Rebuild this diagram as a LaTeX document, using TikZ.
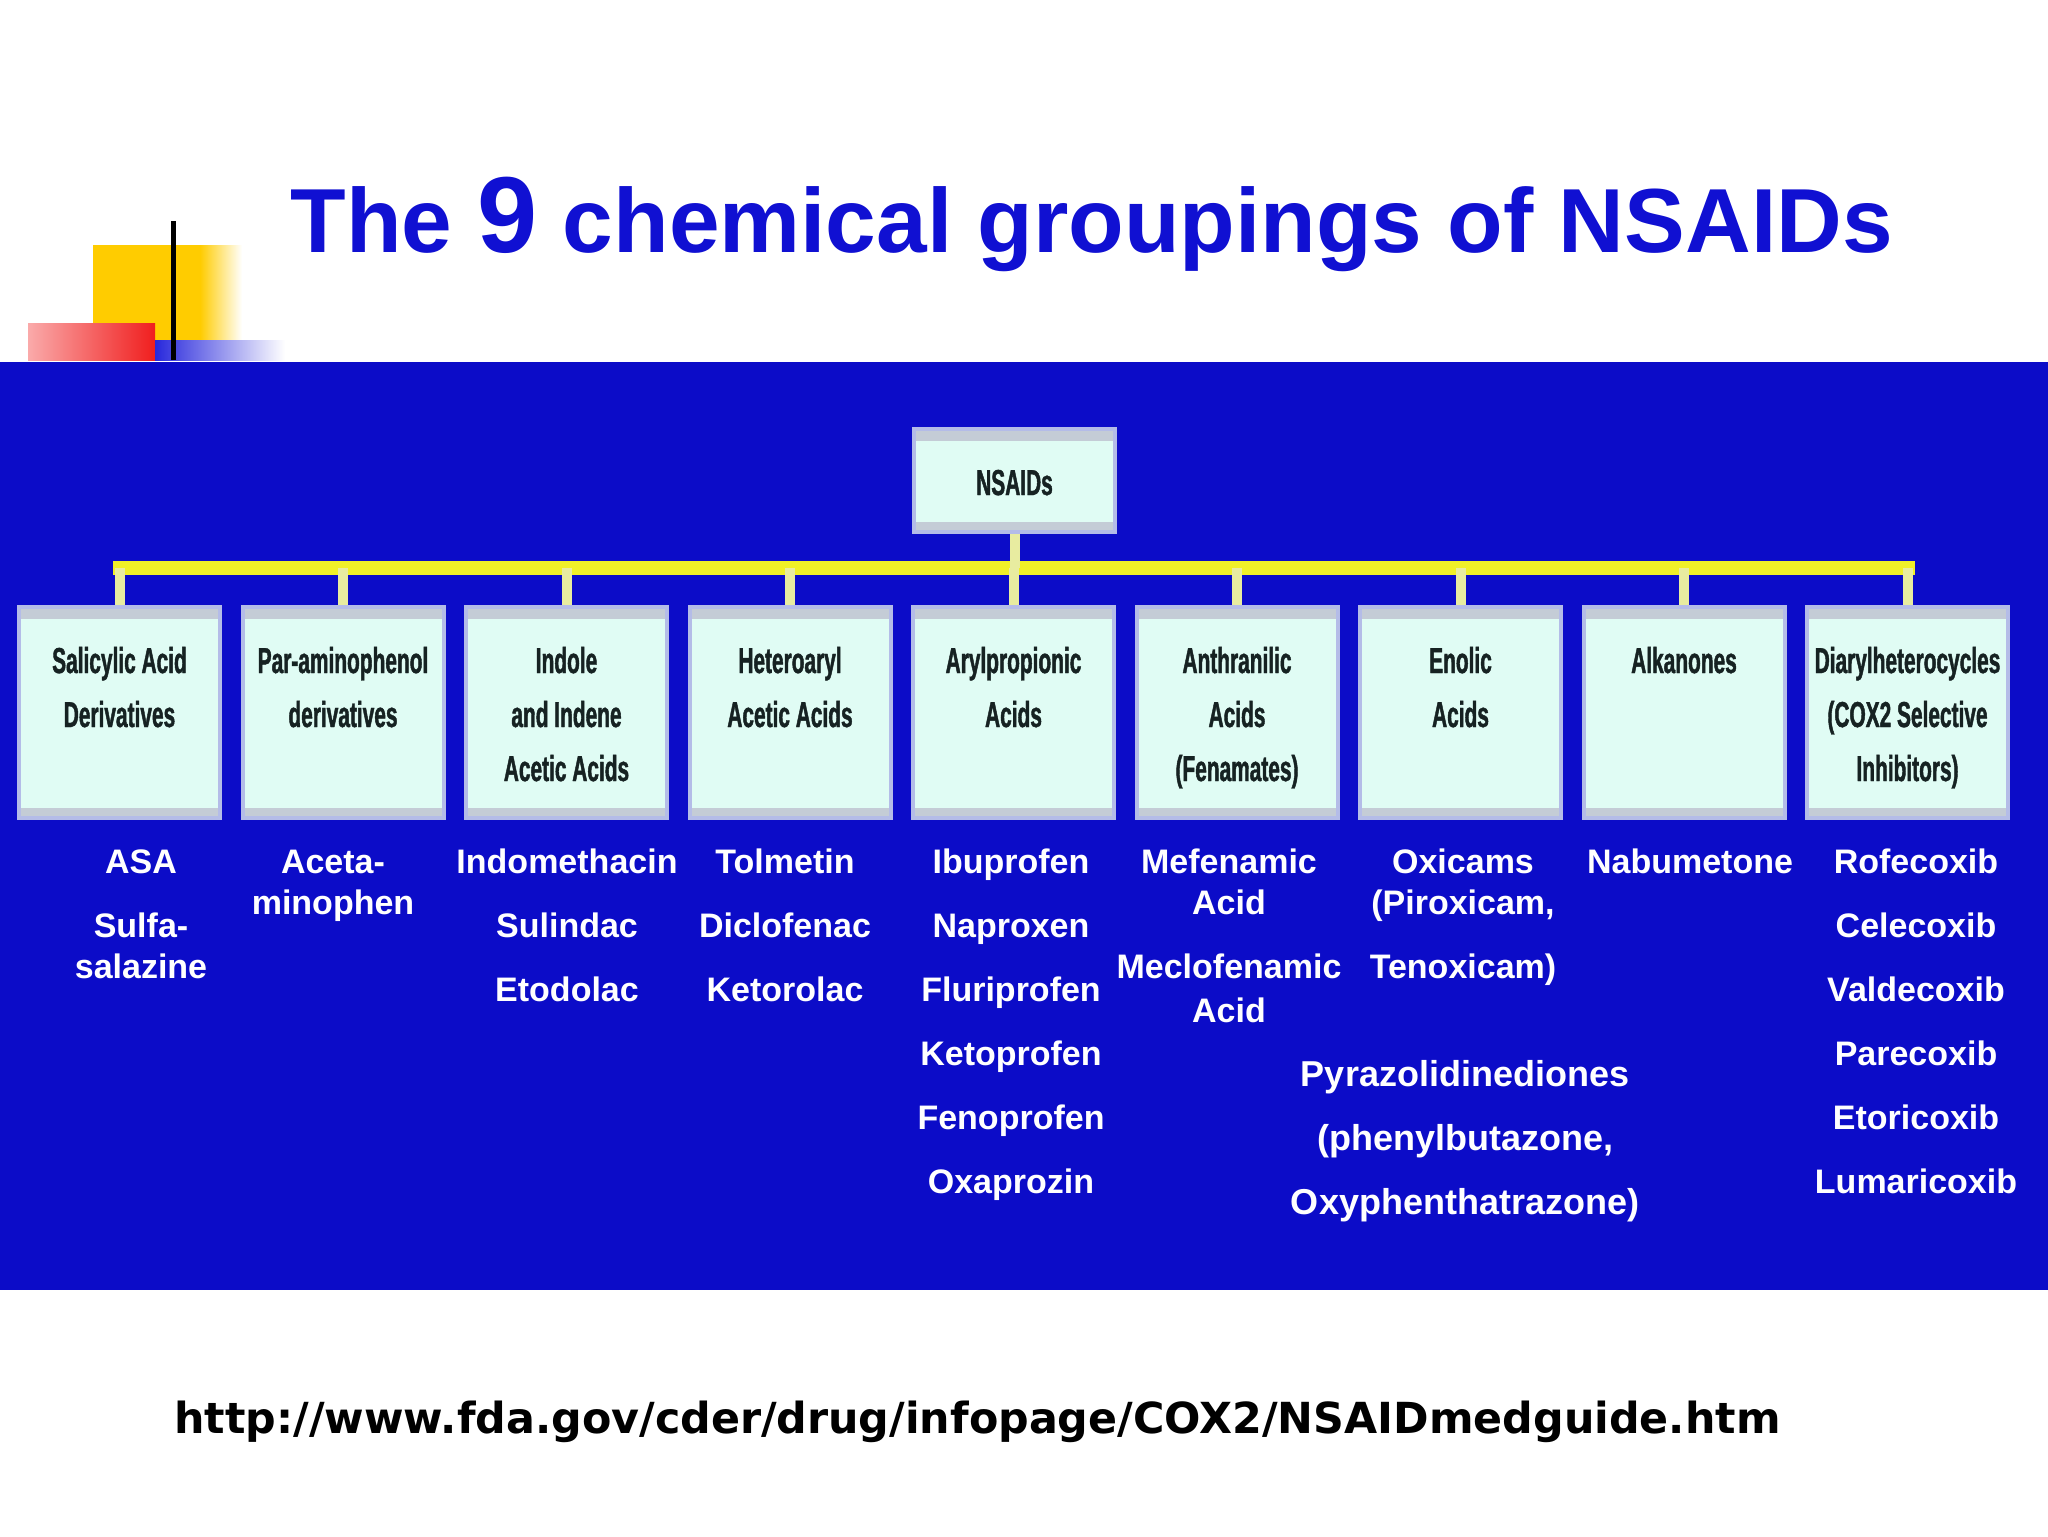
\documentclass[tikz,border=0pt]{standalone}
\usepackage{fontspec}
\setmainfont{Liberation Sans}
\newfontfamily\narrowfont{Liberation Sans Bold}[FakeStretch=0.58,FakeBold=1.2]
\newfontfamily\urlfont{DejaVu Sans}
\definecolor{band}{RGB}{12,12,200}
\definecolor{titleblue}{RGB}{16,16,210}
\definecolor{mint}{RGB}{224,252,244}
\definecolor{edgelav}{RGB}{180,188,232}
\definecolor{edgegray}{RGB}{196,204,214}
\definecolor{ybar}{RGB}{240,240,40}
\definecolor{ystub}{RGB}{232,236,160}
\definecolor{logoyellow}{RGB}{255,204,0}
\definecolor{logored}{RGB}{240,30,30}
\definecolor{logopink}{RGB}{250,170,170}
\definecolor{logoblue}{RGB}{40,40,220}
\definecolor{boxtext}{RGB}{22,34,34}
\tikzset{
  catbox/.style={draw=edgelav, line width=2pt, fill=mint, inner sep=0pt,
    minimum width=100.5pt, minimum height=105.5pt,
    path picture={
      \fill[edgegray] (path picture bounding box.north west) rectangle ([yshift=-6pt]path picture bounding box.north east);
      \fill[edgegray] (path picture bounding box.south west) rectangle ([yshift=5pt]path picture bounding box.south east);
    }},
  boxtxt/.style={anchor=base, inner sep=0pt, text=boxtext,
    font=\narrowfont\fontsize{18pt}{22pt}\selectfont},
  drug/.style={anchor=base, inner sep=0pt, text=white,
    font=\bfseries\fontsize{17pt}{20pt}\selectfont},
  pyra/.style={anchor=base, inner sep=0pt, text=white,
    font=\bfseries\fontsize{18pt}{20pt}\selectfont},
  ybarline/.style={draw=ybar, line width=7pt, line cap=rect},
  ystubline/.style={draw=ystub, line width=5pt},
}
\begin{document}
\begin{tikzpicture}[x=0.5pt, y=-0.5pt]
\useasboundingbox (0,0) rectangle (2048,1536);
\fill[white] (0,0) rectangle (2048,1536);
% logo
\fill[logoyellow] (93,245) rectangle (200,340);
\shade[left color=logoyellow, right color=white] (200,245) rectangle (242,340);
\shade[left color=logopink, right color=logored] (28,323) rectangle (155,360);
\shade[left color=logoblue, right color=white] (155,340) rectangle (285,360);
\draw[line width=2.5pt] (173,221) -- (173,360);
% title
\node[anchor=base west, inner sep=0pt, text=titleblue, font=\bfseries\fontsize{45.5pt}{50pt}\selectfont] (title) at (290,252)
  {The {\fontsize{54pt}{60pt}\selectfont 9} chemical groupings of NSAIDs};
% band
\fill[band] (0,362) rectangle (2048,1290);
% root
\node[catbox, minimum height=51.5pt] (root) at (1014.5,480.5) {};
\node[boxtxt] (roott) at (1014.5,495) {NSAIDs};
% category boxes
\node[catbox] (c1) at (119.5,712.5) {};
\node[catbox] (c2) at (343,712.5) {};
\node[catbox] (c3) at (566.5,712.5) {};
\node[catbox] (c4) at (790,712.5) {};
\node[catbox] (c5) at (1013.5,712.5) {};
\node[catbox] (c6) at (1237,712.5) {};
\node[catbox] (c7) at (1460.5,712.5) {};
\node[catbox] (c8) at (1684,712.5) {};
\node[catbox] (c9) at (1907.5,712.5) {};
% connectors
\coordinate (bar) at (1013.5,568);
\draw[ybarline] (c1.north |- bar) -- (c9.north |- bar);
\draw[ystubline] (root.south) -- (root.south |- bar);
\foreach \i in {1,...,9} { \draw[ystubline] (c\i.north |- bar) -- (c\i.north); }
% box texts
\node[boxtxt] (c1a) at (119.5,673) {Salicylic Acid};
\node[boxtxt] (c1b) at (119.5,727) {Derivatives};
\node[boxtxt] (c2a) at (343,673) {Par-aminophenol};
\node[boxtxt] (c2b) at (343,727) {derivatives};
\node[boxtxt] (c3a) at (566.5,673) {Indole};
\node[boxtxt] (c3b) at (566.5,727) {and Indene};
\node[boxtxt] (c3c) at (566.5,781) {Acetic Acids};
\node[boxtxt] (c4a) at (790,673) {Heteroaryl};
\node[boxtxt] (c4b) at (790,727) {Acetic Acids};
\node[boxtxt] (c5a) at (1013.5,673) {Arylpropionic};
\node[boxtxt] (c5b) at (1013.5,727) {Acids};
\node[boxtxt] (c6a) at (1237,673) {Anthranilic};
\node[boxtxt] (c6b) at (1237,727) {Acids};
\node[boxtxt] (c6c) at (1237,781) {(Fenamates)};
\node[boxtxt] (c7a) at (1460.5,673) {Enolic};
\node[boxtxt] (c7b) at (1460.5,727) {Acids};
\node[boxtxt] (c8a) at (1684,673) {Alkanones};
\node[boxtxt] (c9a) at (1907.5,673) {Diarylheterocycles};
\node[boxtxt] (c9b) at (1907.5,727) {(COX2 Selective};
\node[boxtxt] (c9c) at (1907.5,781) {Inhibitors)};
% drugs
\node[drug] (d1a) at (141,873) {ASA};
\node[drug] (d1b) at (141,937) {Sulfa-};
\node[drug] (d1c) at (141,978) {salazine};
\node[drug] (d2a) at (333,873) {Aceta-};
\node[drug] (d2b) at (333,914) {minophen};
\node[drug] (d3a) at (567,873) {Indomethacin};
\node[drug] (d3b) at (567,937) {Sulindac};
\node[drug] (d3c) at (567,1001) {Etodolac};
\node[drug] (d4a) at (785,873) {Tolmetin};
\node[drug] (d4b) at (785,937) {Diclofenac};
\node[drug] (d4c) at (785,1001) {Ketorolac};
\node[drug] (d5a) at (1011,873) {Ibuprofen};
\node[drug] (d5b) at (1011,937) {Naproxen};
\node[drug] (d5c) at (1011,1001) {Fluriprofen};
\node[drug] (d5d) at (1011,1065) {Ketoprofen};
\node[drug] (d5e) at (1011,1129) {Fenoprofen};
\node[drug] (d5f) at (1011,1193) {Oxaprozin};
\node[drug] (d6a) at (1229,873) {Mefenamic};
\node[drug] (d6b) at (1229,914) {Acid};
\node[drug] (d6c) at (1229,978) {Meclofenamic};
\node[drug] (d6d) at (1229,1022) {Acid};
\node[drug] (d7a) at (1463,873) {Oxicams};
\node[drug] (d7b) at (1463,914) {(Piroxicam,};
\node[drug] (d7c) at (1463,978) {Tenoxicam)};
\node[pyra] (d7d) at (1465,1086) {Pyrazolidinediones};
\node[pyra] (d7e) at (1465,1150) {(phenylbutazone,};
\node[pyra] (d7f) at (1465,1214) {Oxyphenthatrazone)};
\node[drug] (d8a) at (1690,873) {Nabumetone};
\node[drug] (d9a) at (1916,873) {Rofecoxib};
\node[drug] (d9b) at (1916,937) {Celecoxib};
\node[drug] (d9c) at (1916,1001) {Valdecoxib};
\node[drug] (d9d) at (1916,1065) {Parecoxib};
\node[drug] (d9e) at (1916,1129) {Etoricoxib};
\node[drug] (d9f) at (1916,1193) {Lumaricoxib};
% url
\node[anchor=base west, inner sep=0pt, font=\urlfont\bfseries\fontsize{21.4pt}{24pt}\selectfont] (url) at (174,1433)
  {http://www.fda.gov/cder/drug/infopage/COX2/NSAIDmedguide.htm};
\end{tikzpicture}
\end{document}
